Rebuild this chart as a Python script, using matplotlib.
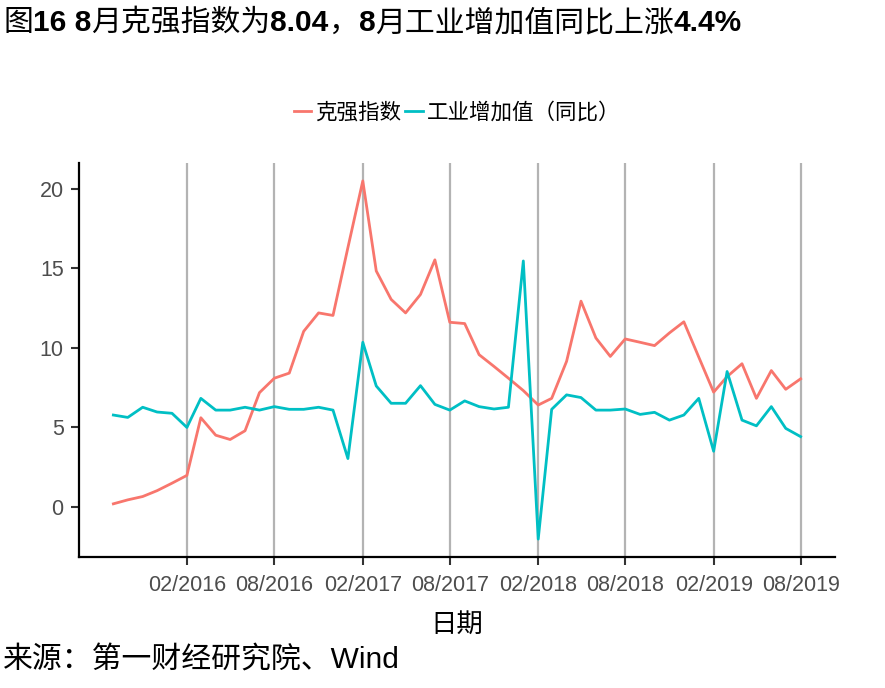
import matplotlib
matplotlib.use("Agg")
import matplotlib.pyplot as plt
import matplotlib.dates as mdates
import pandas as pd

plt.rcParams['font.family'] = ['Liberation Sans', 'Noto Sans CJK SC', 'DejaVu Sans']

dates = pd.date_range("2015-09-01", "2019-08-01", freq="MS")
keqiang = [0.17, 0.42, 0.63, 1.0,
           1.47, 1.96, 5.59, 4.49, 4.22, 4.77, 7.17, 8.08, 8.4, 11.03, 12.19, 12.03,
           16.3, 20.5, 14.83, 13.04, 12.19, 13.35, 15.53, 11.6, 11.52, 9.56, 8.82, 8.08,
           7.3, 6.39, 6.81, 9.14, 12.93, 10.61, 9.45, 10.55, 10.34, 10.13, 10.93, 11.63,
           9.41, 7.2, 8.18, 8.99, 6.81, 8.56, 7.38, 8.04]
industry = [5.76, 5.61, 6.25, 5.95,
            5.87, 4.98, 6.81, 6.07, 6.07, 6.25, 6.07, 6.29, 6.12, 6.12, 6.25, 6.07,
            3.02, 10.34, 7.59, 6.5, 6.5, 7.61, 6.43, 6.07, 6.65, 6.29, 6.14, 6.25,
            15.46, -2.05, 6.12, 7.03, 6.86, 6.07, 6.07, 6.14, 5.8, 5.93, 5.44, 5.76,
            6.81, 3.48, 8.5, 5.44, 5.08, 6.29, 4.92, 4.4]
series_names = ["克强指数", "工业增加值（同比）"]
tick_dates = pd.date_range("2016-02-01", "2019-08-01", freq="6MS")
yticks = [0, 5, 10, 15, 20]
title_parts = [("图", "normal"), ("16 8", "bold"), ("月克强指数为", "normal"),
               ("8.04", "bold"), ("，", "normal"), ("8", "bold"),
               ("月工业增加值同比上涨", "normal"), ("4.4%", "bold")]
caption = "来源：第一财经研究院、Wind"

W, H = 885, 688
fig = plt.figure(figsize=(W / 100, H / 100), dpi=100)
ax = fig.add_axes([79 / W, 1 - 557 / H, (835 - 79) / W, (557 - 163) / H])

l1, = ax.plot(dates, keqiang, color="#F8766D", lw=2.0, label=series_names[0])
l2, = ax.plot(dates, industry, color="#00BFC4", lw=2.0, label=series_names[1])

span = dates[-1] - dates[0]
ax.set_xlim(dates[0] - span * 0.05, dates[-1] + span * 0.05)
ymin, ymax = min(min(keqiang), min(industry)), max(max(keqiang), max(industry))
yr = ymax - ymin
ax.set_ylim(ymin - 0.05 * yr, ymax + 0.05 * yr)

ax.set_xticks(tick_dates)
ax.xaxis.set_major_formatter(mdates.DateFormatter("%m/%Y"))
ax.set_yticks(yticks)
ax.grid(axis="x", color="#B3B3B3", lw=1.6)
ax.set_axisbelow(True)

for s in ["top", "right"]:
    ax.spines[s].set_visible(False)
for s in ["left", "bottom"]:
    ax.spines[s].set_color("black")
    ax.spines[s].set_linewidth(1.6)

ax.tick_params(axis="both", length=6, width=1.5, color="#333333",
               labelcolor="#4D4D4D", labelsize=15.5)
ax.tick_params(axis="x", pad=7)
ax.tick_params(axis="y", pad=5)

ax.set_xlabel("日期", fontsize=19, color="black", labelpad=12)

fig.legend(handles=[l1, l2], loc="center", bbox_to_anchor=(457 / W, 1 - 113 / H),
           ncol=2, frameon=False, fontsize=15.5, handlelength=0.8,
           handletextpad=0.2, columnspacing=0.2)

# title drawn in pieces so that the numbers are bold
renderer = fig.canvas.get_renderer()
x_px = 3
for txt, wt in title_parts:
    t = fig.text(x_px / W, 1 - 23 / H, txt, fontsize=21.5, fontweight=wt,
                 ha="left", va="center", color="black")
    bb = t.get_window_extent(renderer=renderer)
    x_px += bb.width

fig.text(3 / W, 1 - 660 / H, caption,
         fontsize=21.5, ha="left", va="center", color="black")

fig.savefig("out.png", dpi=100)
